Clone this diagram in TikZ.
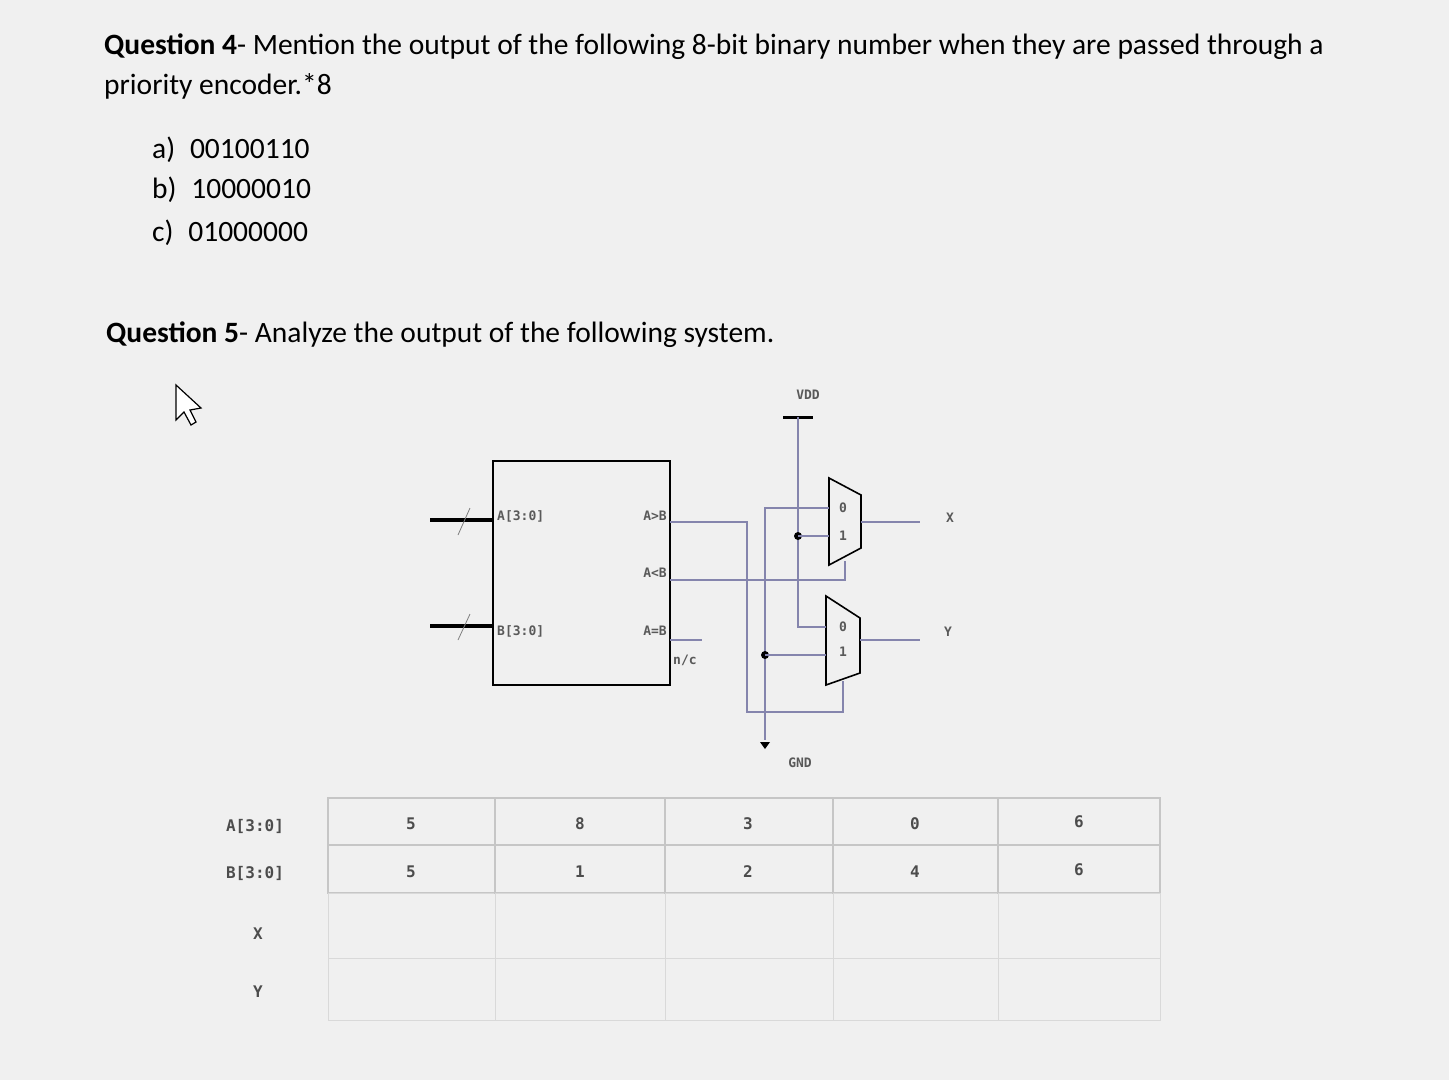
\documentclass[tikz,border=0pt]{standalone}
\usepackage{fontspec}
\setmainfont{Carlito}
\newfontfamily\cfont{DejaVu Sans Mono}
\begin{document}
\begin{tikzpicture}[x=1pt,y=-1pt,
  wire/.style={draw=blue!20!gray!80, line width=1.2pt},
  bus/.style={draw=black, line width=4pt},
  ct/.style={font=\cfont\bfseries\fontsize{13}{13}\selectfont, text=gray!70!black, inner sep=1pt},
  qt/.style={font=\fontsize{29.5}{34}\selectfont, anchor=west, inner sep=0pt},
  lt/.style={font=\fontsize{29.5}{34}\selectfont, anchor=west, inner sep=0pt},
  tv/.style={font=\cfont\bfseries\fontsize{16}{16}\selectfont, text=gray!60!black},
  cell/.style={draw=gray!45, line width=1.5pt}]
\fill[gray!12] (0,0) rectangle (1449,1080);
\useasboundingbox (0,0) rectangle (1449,1080);
\node[qt] (q4) at (104,47) {\textbf{Question 4}- Mention the output of the following 8-bit binary number when they are passed through a};
\node[qt] (q4b) at (104,86) {priority encoder.*8};
\node[lt] (la) at (152,150) {a)\enspace 00100110};
\node[lt] (lb) at (152,190) {b)\enspace 10000010};
\node[lt] (lc) at (152,233) {c)\enspace 01000000};
\node[qt] (q5) at (106,335) {\textbf{Question 5}- Analyze the output of the following system.};
% cursor
\draw[line width=1.2pt, fill=white] (176,385) -- (176,420) -- (184,412) -- (191,425) -- (196,422) -- (190,410) -- (201,408) -- cycle;
% comparator box
\draw[line width=2pt] (493,461) rectangle (670,685);
\node[ct, anchor=west] (ain) at (496,516) {A[3:0]};
\node[ct, anchor=west] (bin) at (496,631) {B[3:0]};
\node[ct, anchor=east] (agt) at (668,516) {A>B};
\node[ct, anchor=east] (alt) at (668,573) {A<B};
\node[ct, anchor=east] (aeq) at (668,631) {A=B};
\node[ct, anchor=west] (nc) at (672,660) {n/c};
\draw[bus] (430,520) -- (493,520);
\draw[bus] (430,626) -- (493,626);
\draw[gray, line width=0.8pt] (458,535) -- (470,508);
\draw[gray, line width=0.8pt] (458,640) -- (470,614);
% muxes
\draw[line width=1.6pt] (829,478) -- (861,495) -- (861,548) -- (829,565) -- cycle;
\draw[line width=1.6pt] (826,596) -- (860,618) -- (860,673) -- (826,685) -- cycle;
\node[ct] (m10) at (843,508) {0};
\node[ct] (m11) at (843,536) {1};
\node[ct] (m20) at (843,627) {0};
\node[ct] (m21) at (843,652) {1};
% VDD
\node[ct] (vdd) at (808,395) {VDD};
\draw[line width=3pt] (783,417) -- (813,417);
\coordinate (vtop) at (798,417);
\draw[wire] (vtop) -- (798,627) -- (826,627);
\fill (798,536) circle (4);
\draw[wire] (798,536) -- (829,536);
% GND
\draw[wire] (829,508) -- (765,508) -- (765,740);
\fill (765,749) -- (760,742) -- (770,742) -- cycle;
\node[ct] (gnd) at (800,763) {GND};
\fill (765,655) circle (4);
\draw[wire] (765,655) -- (826,655);
% comparator outputs
\draw[wire] (670,522) -- (747,522) -- (747,712) -- (843,712) -- (843,681);
\draw[wire] (670,580) -- (845,580) -- (845,561);
\draw[wire] (670,640) -- (702,640);
% outputs
\draw[wire] (861,522) -- (920,522);
\draw[wire] (860,640) -- (920,640);
\node[ct] (X) at (950,518) {X};
\node[ct] (Y) at (948,632) {Y};
% table
\node[tv] (ra) at (255,826) {A[3:0]};
\node[tv] (rb) at (255,873) {B[3:0]};
\node[tv] (rx) at (258,934) {X};
\node[tv] (ry) at (258,992) {Y};
\foreach \x/\w [count=\i] in {328/495,495/665,665/833,833/998,998/1160}{
  \draw[cell] (\x,798) rectangle (\w,845);
  \draw[cell] (\x,845) rectangle (\w,893);
  \draw[draw=gray!30, line width=1pt] (\x,893) rectangle (\w,958);
  \draw[draw=gray!30, line width=1pt] (\x,958) rectangle (\w,1020);
}
\node[tv] (a1) at (411,824) {5};
\node[tv] (a2) at (580,824) {8};
\node[tv] (a3) at (748,824) {3};
\node[tv] (a4) at (915,824) {0};
\node[tv] (a5) at (1079,822) {6};
\node[tv] (b1) at (411,872) {5};
\node[tv] (b2) at (580,872) {1};
\node[tv] (b3) at (748,872) {2};
\node[tv] (b4) at (915,872) {4};
\node[tv] (b5) at (1079,870) {6};
\end{tikzpicture}
\end{document}
